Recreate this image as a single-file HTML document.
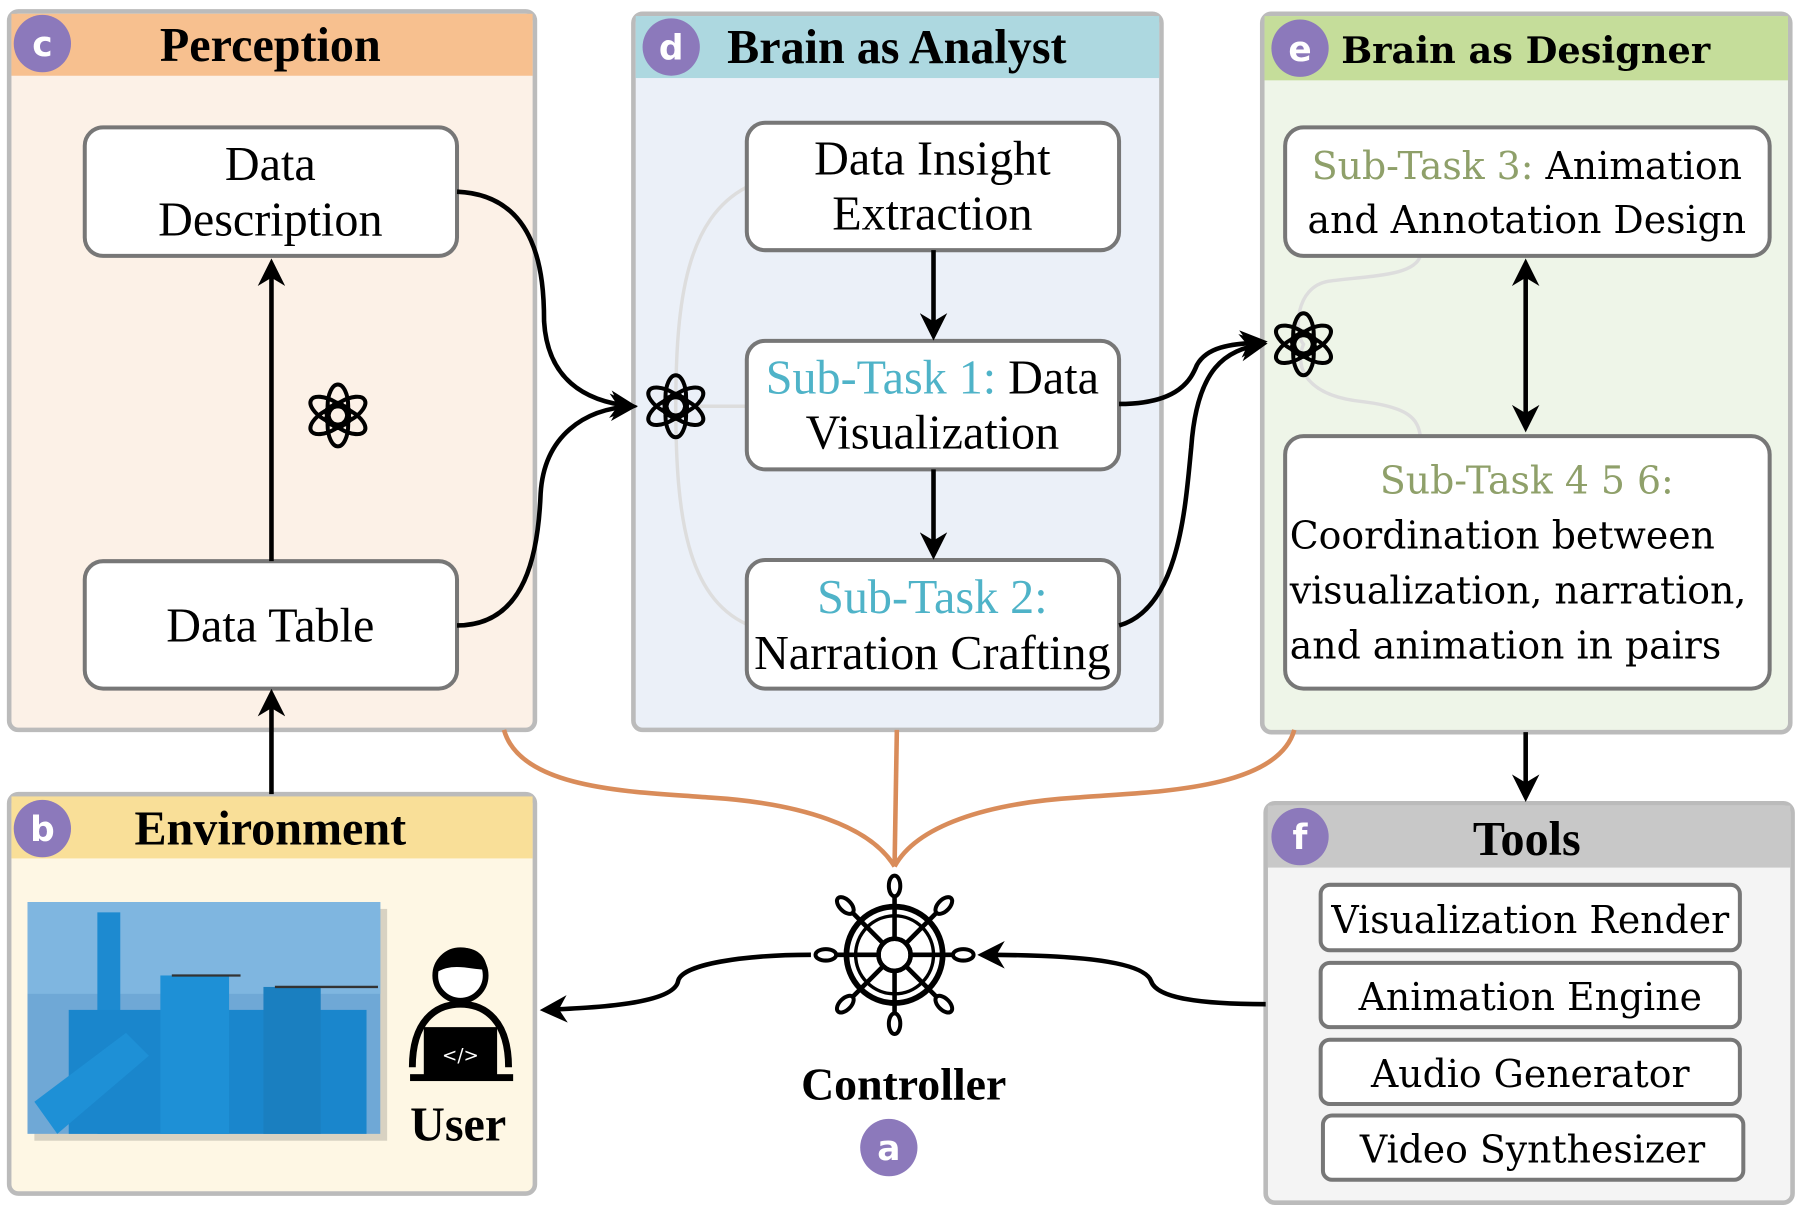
<!DOCTYPE html>
<html><head><meta charset="utf-8"><style>html,body{margin:0;padding:0;background:#fff}svg{display:block}</style></head><body>
<svg width="1796" height="1205" viewBox="0 0 1568 1050" preserveAspectRatio="none" xmlns="http://www.w3.org/2000/svg">
<defs>
<marker id="ah" viewBox="0 0 10 10" refX="8" refY="5" markerWidth="6" markerHeight="6" orient="auto-start-reverse"><path d="M0,0 L10,5 L0,10 L3,5 z" fill="#000"/></marker>
<g id="oai" fill="none" stroke="#000" stroke-width="3.5">
<ellipse cx="0" cy="-8" rx="9" ry="19"/>
<ellipse cx="0" cy="-8" rx="9" ry="19" transform="rotate(60)"/>
<ellipse cx="0" cy="-8" rx="9" ry="19" transform="rotate(120)"/>
<ellipse cx="0" cy="-8" rx="9" ry="19" transform="rotate(180)"/>
<ellipse cx="0" cy="-8" rx="9" ry="19" transform="rotate(240)"/>
<ellipse cx="0" cy="-8" rx="9" ry="19" transform="rotate(300)"/>
</g>
</defs>
<style>
.t{font-family:"Liberation Serif",serif;font-size:42px;fill:#000}
.h{font-family:"Liberation Serif",serif;font-size:42px;font-weight:bold;fill:#000}
.d{font-family:"DejaVu Serif","Liberation Serif",serif;font-size:33px;fill:#000}
.bx{fill:#fff;stroke:#777;stroke-width:3.5}
.bdg{font-family:"DejaVu Sans",sans-serif;font-size:30px;font-weight:bold;fill:#fff}
</style>

<!-- Perception -->
<rect x="8" y="10" width="459" height="626" rx="8" fill="#fcf1e7" stroke="#bbb" stroke-width="4"/>
<rect x="10" y="12" width="455" height="54" fill="#f7c08f"/>
<circle cx="37" cy="38" r="25" fill="#8c79bb"/><text x="37" y="49" text-anchor="middle" class="bdg">c</text>
<text x="236" y="53" text-anchor="middle" class="h">Perception</text>
<rect x="74" y="111" width="325" height="112" rx="16" class="bx"/>
<text x="236" y="157" text-anchor="middle" class="t">Data</text>
<text x="236" y="205" text-anchor="middle" class="t">Description</text>
<rect x="74" y="489" width="325" height="111" rx="16" class="bx"/>
<text x="236" y="559" text-anchor="middle" class="t">Data Table</text>
<line x1="237" y1="489" x2="237" y2="230" stroke="#000" stroke-width="4" marker-end="url(#ah)"/>
<use href="#oai" x="295" y="362"/>

<!-- Analyst -->
<rect x="553" y="12" width="461" height="624" rx="8" fill="#ebf0f8" stroke="#bbb" stroke-width="4"/>
<rect x="555" y="14" width="457" height="54" fill="#add8e0"/>
<circle cx="586" cy="41" r="25" fill="#8c79bb"/><text x="586" y="52" text-anchor="middle" class="bdg">d</text>
<text x="783" y="55" text-anchor="middle" class="h">Brain as Analyst</text>
<path d="M652,163 C600,190 590,260 590,354 C590,450 600,520 652,544" fill="none" stroke="#ddd" stroke-width="3"/>
<line x1="610" y1="354" x2="652" y2="354" stroke="#ddd" stroke-width="3"/>
<rect x="652" y="107" width="325" height="111" rx="16" class="bx"/>
<text x="814" y="152" text-anchor="middle" class="t">Data Insight</text>
<text x="814" y="200" text-anchor="middle" class="t">Extraction</text>
<rect x="652" y="297" width="325" height="112" rx="16" class="bx"/>
<text x="814" y="343" text-anchor="middle" class="t"><tspan fill="#4fb3c8">Sub-Task 1:</tspan> Data</text>
<text x="814" y="391" text-anchor="middle" class="t">Visualization</text>
<rect x="652" y="488" width="325" height="112" rx="16" class="bx"/>
<text x="814" y="534" text-anchor="middle" class="t" style="fill:#4fb3c8">Sub-Task 2:</text>
<text x="814" y="583" text-anchor="middle" class="t">Narration Crafting</text>
<line x1="815" y1="218" x2="815" y2="292" stroke="#000" stroke-width="4" marker-end="url(#ah)"/>
<line x1="815" y1="409" x2="815" y2="483" stroke="#000" stroke-width="4" marker-end="url(#ah)"/>
<use href="#oai" x="590" y="354"/>

<!-- Designer -->
<rect x="1102" y="12" width="461" height="626" rx="8" fill="#eef5e8" stroke="#bbb" stroke-width="4"/>
<rect x="1104" y="14" width="457" height="56" fill="#c5dd9a"/>
<circle cx="1135" cy="42" r="25" fill="#8c79bb"/><text x="1135" y="53" text-anchor="middle" class="bdg">e</text>
<text x="1332" y="55" text-anchor="middle" class="h" style="font-family:'DejaVu Serif',serif;font-size:32px">Brain as Designer</text>
<path d="M1240,223 C1235,240 1200,240 1160,245 C1130,250 1130,290 1138,300 C1130,320 1140,345 1190,350 C1230,355 1238,365 1240,380" fill="none" stroke="#ddd" stroke-width="3"/>
<rect x="1122" y="111" width="423" height="112" rx="16" class="bx"/>
<text x="1333" y="156" text-anchor="middle" class="d"><tspan fill="#8fa06a">Sub-Task 3:</tspan> Animation</text>
<text x="1333" y="203" text-anchor="middle" class="d">and Annotation Design</text>
<rect x="1122" y="380" width="423" height="220" rx="16" class="bx"/>
<text x="1333" y="430" text-anchor="middle" class="d" style="fill:#8fa06a">Sub-Task 4 5 6:</text>
<text x="1126" y="478" class="d">Coordination between</text>
<text x="1126" y="526" class="d">visualization, narration,</text>
<text x="1126" y="574" class="d">and animation in pairs</text>
<line x1="1332" y1="230" x2="1332" y2="372" stroke="#000" stroke-width="4" marker-end="url(#ah)" marker-start="url(#ah)"/>
<use href="#oai" x="1138" y="300"/>

<!-- Environment -->
<rect x="8" y="692" width="459" height="348" rx="8" fill="#fef7e4" stroke="#bbb" stroke-width="4"/>
<rect x="10" y="694" width="455" height="54" fill="#f9df98"/>
<circle cx="37" cy="722" r="25" fill="#8c79bb"/><text x="37" y="733" text-anchor="middle" class="bdg">b</text>
<text x="236" y="736" text-anchor="middle" class="h">Environment</text>
<rect x="30" y="792" width="308" height="202" fill="#000" opacity="0.15"/>
<rect x="24" y="786" width="308" height="202" fill="#6fa8d6"/>
<rect x="24" y="786" width="308" height="80" fill="#7fb6e0"/>
<rect x="85" y="795" width="20" height="193" fill="#1d8ad0"/>
<rect x="60" y="880" width="260" height="108" fill="#1a86cc"/>
<rect x="140" y="850" width="60" height="138" fill="#1e90d6"/>
<rect x="230" y="860" width="50" height="128" fill="#1a7fc0"/>
<path d="M30,960 L110,900 L130,920 L50,988 Z" fill="#1e90d6"/>
<line x1="240" y1="860" x2="330" y2="860" stroke="#333" stroke-width="2"/>
<line x1="150" y1="850" x2="210" y2="850" stroke="#333" stroke-width="2"/>
<!-- user -->
<circle cx="402" cy="850" r="22" fill="#fff" stroke="#000" stroke-width="5"/>
<path d="M380,848 C380,820 425,818 425,845 C410,845 395,838 380,848Z" fill="#000"/>
<path d="M360,930 C360,890 380,875 402,875 C424,875 444,890 444,930" fill="none" stroke="#000" stroke-width="6"/>
<rect x="370" y="895" width="64" height="45" fill="#000"/>
<rect x="358" y="936" width="90" height="6" fill="#000"/>
<text x="402" y="925" text-anchor="middle" font-family="DejaVu Sans" font-size="16" fill="#fff">&lt;/&gt;</text>
<text x="400" y="994" text-anchor="middle" class="h">User</text>
<line x1="237" y1="692" x2="237" y2="605" stroke="#000" stroke-width="4" marker-end="url(#ah)"/>

<!-- Tools -->
<rect x="1105" y="700" width="460" height="348" rx="8" fill="#f4f4f4" stroke="#bbb" stroke-width="4"/>
<rect x="1107" y="702" width="456" height="54" fill="#c8c8c8"/>
<circle cx="1135" cy="729" r="25" fill="#8c79bb"/><text x="1135" y="740" text-anchor="middle" class="bdg">f</text>
<text x="1333" y="745" text-anchor="middle" class="h">Tools</text>
<rect x="1153" y="771" width="366" height="57" rx="8" class="bx"/>
<text x="1336" y="813" text-anchor="middle" class="d">Visualization Render</text>
<rect x="1153" y="839" width="366" height="56" rx="8" class="bx"/>
<text x="1336" y="880" text-anchor="middle" class="d">Animation Engine</text>
<rect x="1153" y="906" width="366" height="56" rx="8" class="bx"/>
<text x="1336" y="947" text-anchor="middle" class="d">Audio Generator</text>
<rect x="1155" y="972" width="367" height="56" rx="8" class="bx"/>
<text x="1338" y="1013" text-anchor="middle" class="d">Video Synthesizer</text>
<line x1="1332" y1="638" x2="1332" y2="694" stroke="#000" stroke-width="4" marker-end="url(#ah)"/>

<!-- connectors -->
<path d="M399,167 C470,170 475,240 475,280 C478,330 510,350 552,354" fill="none" stroke="#000" stroke-width="4" marker-end="url(#ah)"/>
<path d="M399,545 C460,545 470,480 472,430 C475,380 510,356 552,354" fill="none" stroke="#000" stroke-width="4" marker-end="url(#ah)"/>
<path d="M977,352 C1030,352 1040,330 1045,318 C1055,300 1080,300 1102,298" fill="none" stroke="#000" stroke-width="4" marker-end="url(#ah)"/>
<path d="M977,545 C1030,530 1035,440 1040,390 C1045,320 1070,305 1102,300" fill="none" stroke="#000" stroke-width="4" marker-end="url(#ah)"/>
<!-- orange -->
<path d="M440,636 C455,690 560,690 620,695 C700,700 760,720 781,755" fill="none" stroke="#d98c5a" stroke-width="4"/>
<path d="M1130,636 C1115,690 1000,690 940,695 C860,700 800,720 781,755" fill="none" stroke="#d98c5a" stroke-width="4"/>
<line x1="783" y1="636" x2="781" y2="755" stroke="#d98c5a" stroke-width="4"/>
<!-- wheel -->
<g transform="translate(781,832)" fill="none" stroke="#000">
<circle r="42" stroke-width="5"/><circle r="34" stroke-width="3"/><circle r="14" stroke-width="4"/>
<g stroke-width="4">
<line x1="0" y1="-64" x2="0" y2="64"/><line x1="-64" y1="0" x2="64" y2="0"/>
<line x1="-46" y1="-46" x2="46" y2="46"/><line x1="46" y1="-46" x2="-46" y2="46"/>
</g>
<g fill="#fff" stroke-width="3.5">
<ellipse cx="0" cy="-60" rx="5" ry="9"/><ellipse cx="0" cy="60" rx="5" ry="9"/>
<ellipse cx="-60" cy="0" rx="9" ry="5"/><ellipse cx="60" cy="0" rx="9" ry="5"/>
<ellipse cx="-43" cy="-43" rx="5" ry="9" transform="rotate(-45 -43 -43)"/><ellipse cx="43" cy="43" rx="5" ry="9" transform="rotate(-45 43 43)"/>
<ellipse cx="43" cy="-43" rx="5" ry="9" transform="rotate(45 43 -43)"/><ellipse cx="-43" cy="43" rx="5" ry="9" transform="rotate(45 -43 43)"/>
</g>
<circle r="12" fill="#fff" stroke="none"/><circle r="14" stroke-width="4"/>
</g>
<path d="M708,832 C650,832 595,840 592,855 C588,875 520,878 476,880" fill="none" stroke="#000" stroke-width="4" marker-end="url(#ah)"/>
<path d="M1105,875 C1050,875 1010,870 1005,855 C998,835 920,832 858,832" fill="none" stroke="#000" stroke-width="4" marker-end="url(#ah)"/>
<text x="789" y="958" text-anchor="middle" class="h" style="font-size:40px">Controller</text>
<circle cx="776" cy="1000" r="25" fill="#8c79bb"/><text x="776" y="1011" text-anchor="middle" class="bdg">a</text>
</svg>
</body></html>
